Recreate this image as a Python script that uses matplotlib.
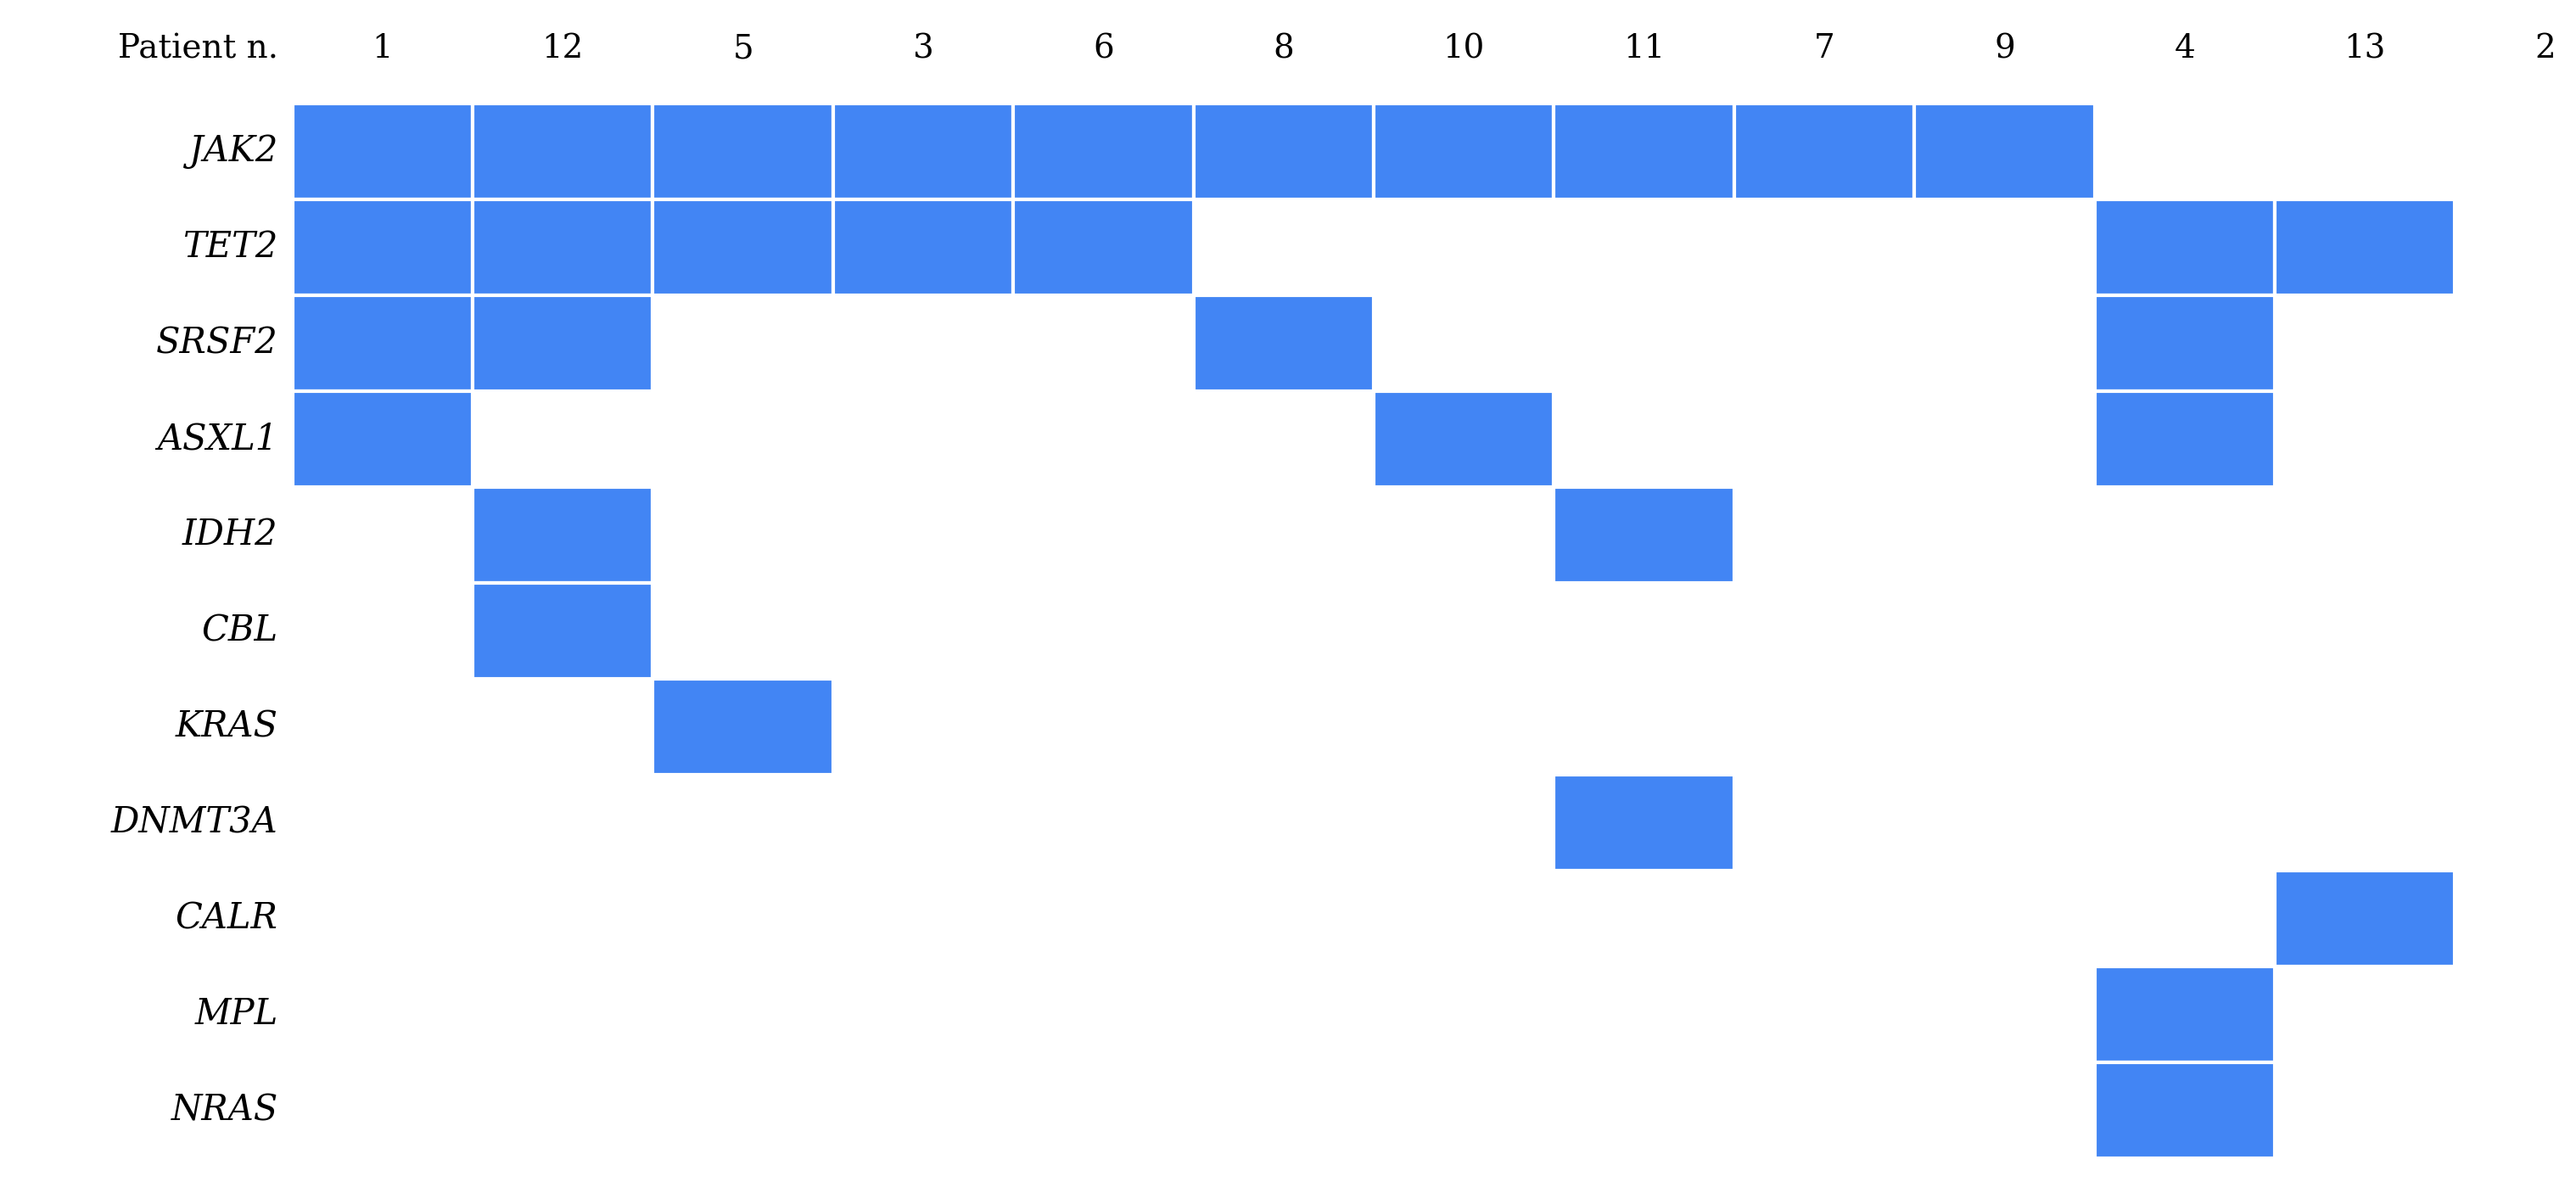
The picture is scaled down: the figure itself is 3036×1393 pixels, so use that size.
import matplotlib
matplotlib.use("Agg")
import matplotlib.pyplot as plt

patients = ["1", "12", "5", "3", "6", "8", "10", "11", "7", "9", "4", "13", "2"]
genes = ["JAK2", "TET2", "SRSF2", "ASXL1", "IDH2", "CBL", "KRAS", "DNMT3A", "CALR", "MPL", "NRAS"]
mutations = {
    "JAK2": ["1", "12", "5", "3", "6", "8", "10", "11", "7", "9"],
    "TET2": ["1", "12", "5", "3", "6", "4", "13"],
    "SRSF2": ["1", "12", "8", "4"],
    "ASXL1": ["1", "10", "4"],
    "IDH2": ["12", "11"],
    "CBL": ["12"],
    "KRAS": ["5"],
    "DNMT3A": ["11"],
    "CALR": ["13"],
    "MPL": ["4"],
    "NRAS": ["4"],
}

W, H = 1568.0, 719.5
fig = plt.figure(figsize=(30.36, 13.93), dpi=100)
left = 178 / W
ax = fig.add_axes([left, (H - 705) / H, 1 - left, (705 - 63) / H])
colw = 109.7
ax.set_xlim(0, (W - 178) / colw)
ax.set_ylim(len(genes), 0)
ax.axis("off")

for r, g in enumerate(genes):
    for p in mutations[g]:
        c = patients.index(p)
        ax.bar(c + 0.5, 1, bottom=r, width=1, color="#4285F4",
               edgecolor="white", linewidth=3)
    ax.text(-0.08, r + 0.5, g, ha="right", va="center", fontsize=30,
            style="italic", family="DejaVu Serif", clip_on=False)

for c, p in enumerate(patients):
    ax.text(c + 0.5, -0.57, p, ha="center", va="center", fontsize=28,
            family="DejaVu Serif", clip_on=False)
ax.text(-0.08, -0.57, "Patient n.", ha="right", va="center", fontsize=28,
        family="DejaVu Serif", clip_on=False)

fig.savefig("out.png", dpi=100)
